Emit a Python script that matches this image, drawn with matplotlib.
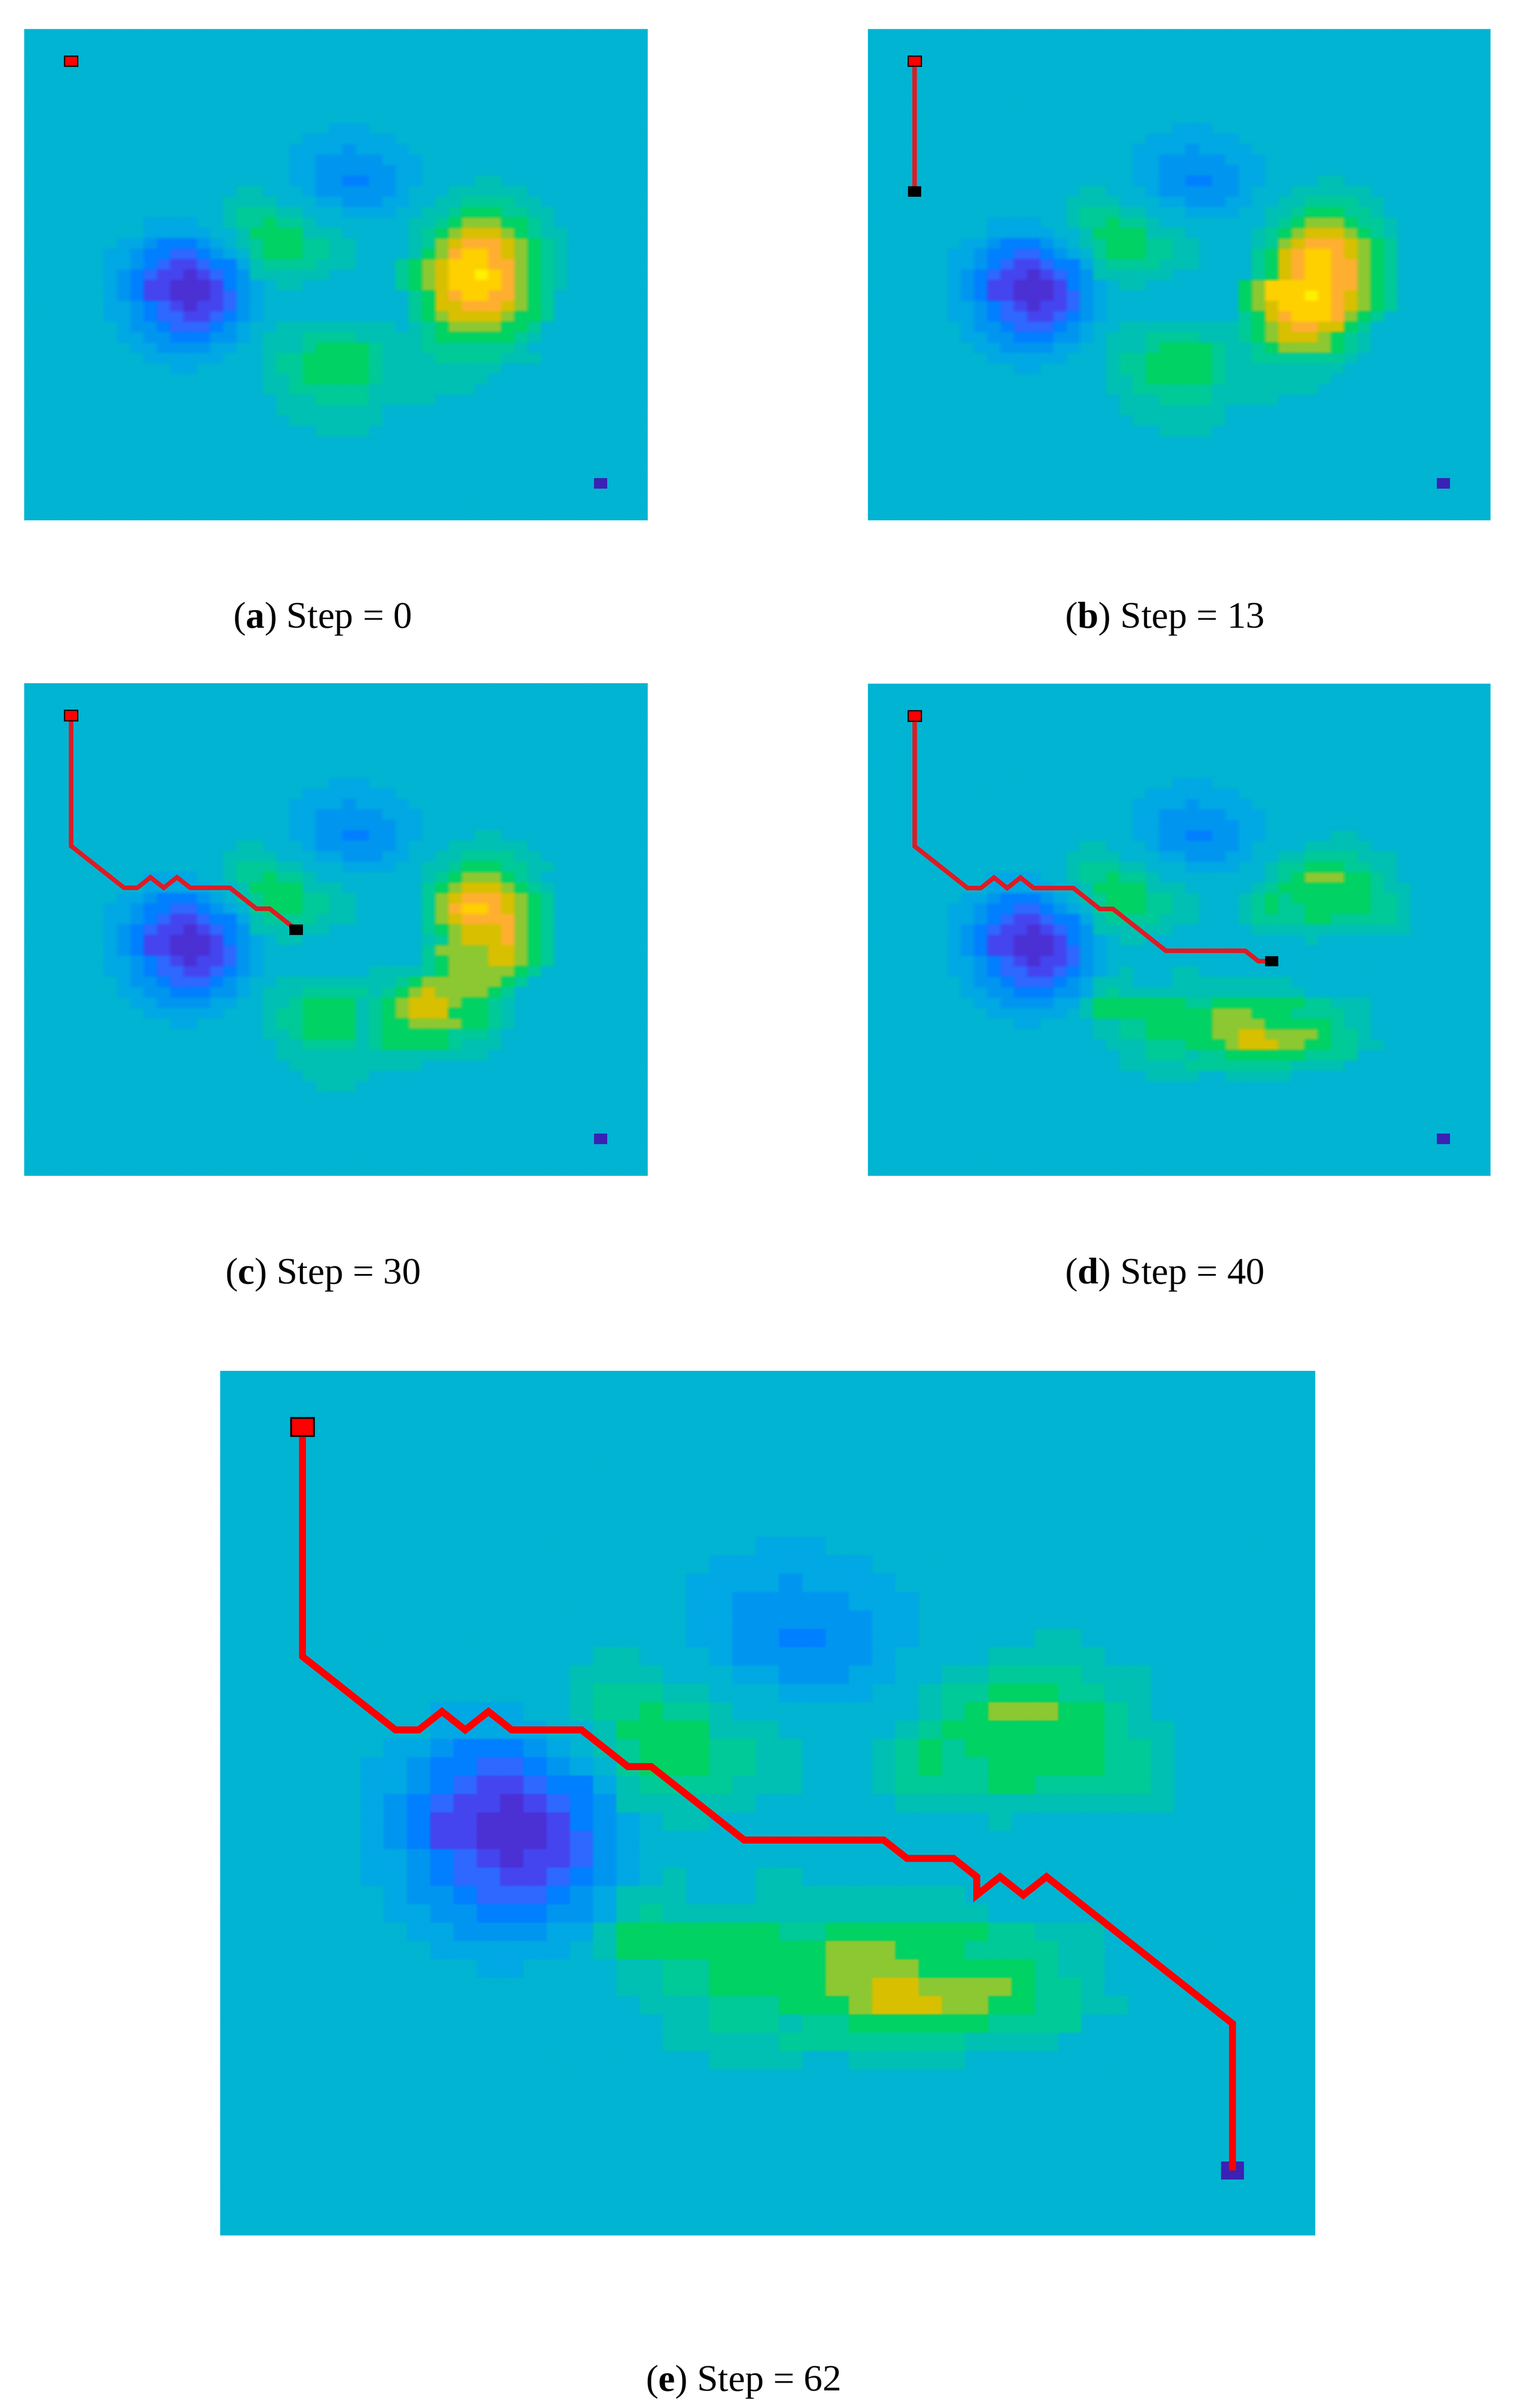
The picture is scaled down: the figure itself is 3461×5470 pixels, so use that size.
import matplotlib

matplotlib.use("Agg")
import matplotlib.pyplot as plt
from matplotlib.patches import Rectangle
import numpy as np

FIG_W, FIG_H = 3462, 5470
DPI = 100

# colour of every threat level, '.' is the open water background
LEVEL_COLORS = {
    ".": "#00B4D2",
    "a": "#00A8E4",
    "b": "#0096F0",
    "c": "#007FFF",
    "d": "#2E68FF",
    "e": "#4545F0",
    "f": "#4B30D4",
    "g": "#00C0B4",
    "h": "#00CA98",
    "i": "#00D264",
    "j": "#8CC832",
    "k": "#D8C000",
    "l": "#FFB030",
    "m": "#FFD000",
    "n": "#FFF000",
}

# cells are (row, first column, levels)
LEFT_BLOB = [
    (18, 9, "aaaa"),
    (19, 9, "aaaaa"),
    (20, 7, "aabcccba"),
    (21, 6, "aabccddcba"),
    (22, 6, "aabcdeedcca"),
    (23, 6, "abcdeefedcba"),
    (24, 6, "abceefffecba"),
    (25, 6, "abceefffedba"),
    (26, 6, "aabcdefeedba"),
    (27, 6, "aabcddeedcba"),
    (28, 7, "abbcdddcba"),
    (29, 7, "aabbcccbba"),
    (30, 8, "aabbbbaa"),
    (31, 9, "aaaaaa"),
    (32, 11, "aa"),
]
TOP_BLOB = [
    (9, 23, "aaa"),
    (10, 21, "aaaaaaa"),
    (11, 20, "aaaabaaaa"),
    (12, 20, "aabbbbbaaa"),
    (13, 20, "aabbbbbbaa"),
    (14, 20, "aabbccbbaa"),
    (15, 21, "abbbbbba"),
    (16, 22, "aabbbaa"),
    (17, 24, "aaaa"),
]
MID_BLOB = [
    (15, 16, "gg"),
    (16, 15, "gggg"),
    (17, 15, "ghhhgg"),
    (18, 15, "ghhihhg"),
    (19, 16, "giiiiggg"),
    (20, 16, "ghiiihhgg"),
    (21, 17, "hiiihhgg"),
    (22, 17, "ghhhhggg"),
    (23, 17, "gggggg"),
    (24, 19, "gg"),
]
LOW_AB = [
    (28, 19, "ggggggggg"),
    (29, 18, "ggghhhhgggg"),
    (30, 18, "ggghiiiihgg"),
    (31, 18, "ghhiiiiihg"),
    (32, 18, "ghhiiiiih"),
    (33, 18, "gghiiiiih"),
    (34, 18, "gghhhhhhg"),
    (35, 19, "ggghhhhgg"),
    (36, 19, "gggggggg"),
    (37, 20, "ggggggg"),
    (38, 22, "gggg"),
]
CLOUD_A = [
    (14, 34, "gg"),
    (15, 32, "gggggg"),
    (16, 31, "gghhhhgg"),
    (17, 30, "gghiiihhgg"),
    (18, 29, "gghijjjiihg"),
    (19, 29, "ghijkkkjihgg"),
    (20, 29, "ghjklllkjihg"),
    (21, 29, "gijlmmlkjihg"),
    (22, 28, "hijkmmmlljihg"),
    (23, 28, "hijkmmnmljihg"),
    (24, 28, "hijkmmmmljihg"),
    (25, 29, "hiklmmlljih"),
    (26, 29, "hikklllkjih"),
    (27, 29, "hijkkkkjiih"),
    (28, 29, "ghijjjjiih"),
    (29, 29, "ghiiiiiihg"),
    (30, 28, "gghhhhhhhg"),
    (31, 27, "gggghhhhhggg"),
    (32, 27, "ggggggggg"),
    (33, 27, "gggggggg"),
    (34, 27, "ggggggg"),
    (35, 27, "gggg"),
]
CLOUD_B = [
    (14, 34, "gg"),
    (15, 32, "gggggg"),
    (16, 31, "gghhhhgg"),
    (17, 30, "gghiiihhg"),
    (18, 30, "ghijjjihhg"),
    (19, 29, "ghijkkkjihg"),
    (20, 29, "ghjklllkjih"),
    (21, 29, "hiklmmlkjih"),
    (22, 29, "hiklmmlljih"),
    (23, 29, "hiklmmlljih"),
    (24, 28, "ijmmmmmlljih"),
    (25, 28, "ijmmmnmlkjih"),
    (26, 28, "ijkmmmmlkjih"),
    (27, 28, "hiklmmmljih"),
    (28, 28, "hijkllkkih"),
    (29, 28, "hijkkkjihg"),
    (30, 28, "ghijjjjihg"),
    (31, 27, "gghhhhhhhg"),
    (32, 27, "ggggggggg"),
    (33, 27, "gggggggg"),
    (34, 27, "ggggggg"),
    (35, 27, "gggg"),
]
LOW_C = [
    (28, 19, "gggggggg"),
    (29, 18, "ggghhhhhg"),
    (30, 18, "gghiiiig"),
    (31, 18, "ghhiiiig"),
    (32, 18, "ghhiiiig"),
    (33, 18, "gghiiiig"),
    (34, 19, "gghhhhg"),
    (35, 19, "ggggggg"),
    (36, 20, "gggggg"),
    (37, 21, "ggggg"),
    (38, 22, "ggg"),
]
CLOUD_C = [
    (14, 34, "gg"),
    (15, 32, "gggggg"),
    (16, 31, "gghhhhgg"),
    (17, 30, "gghiiihhgg"),
    (18, 30, "ghijjjihg"),
    (19, 30, "hijkkkjihg"),
    (20, 30, "hjklllkjih"),
    (21, 30, "hjlmmlkjih"),
    (22, 30, "hjklllljih"),
    (23, 30, "hijkkkljih"),
    (24, 30, "ghjkkkljih"),
    (25, 30, "hjjjjkkjih"),
    (26, 30, "hijjjkkjih"),
    (27, 26, "gggghijjjjjih"),
    (28, 26, "gghijjjjjjih"),
    (29, 26, "ghijkjjjjih"),
    (30, 26, "hijkkkjiihg"),
    (31, 26, "hijkkkiiihg"),
    (32, 26, "hiijjjjiihg"),
    (33, 26, "hiiiiihhhg"),
    (34, 26, "hiiiiihggg"),
    (35, 26, "ggggggggg"),
    (36, 26, "gggg"),
]
RIGHT_DE = [
    (14, 35, "gg"),
    (15, 33, "ggggg"),
    (16, 31, "gghhhhggg"),
    (17, 30, "ghhiiihhgg"),
    (18, 30, "ghijjjiihg"),
    (19, 29, "ghiiiiiiihgg"),
    (20, 28, "ghihiiiiiihhg"),
    (21, 28, "ghihhiiiiihhg"),
    (22, 28, "ghhhhiihhhhhg"),
    (23, 29, "gggggggggggg"),
    (24, 33, "g"),
]
LOW_DE = [
    (27, 19, "g"),
    (27, 23, "gg"),
    (28, 17, "ggg"),
    (28, 23, "ggggggggg"),
    (29, 17, "ghgggggggggggggg"),
    (30, 16, "giiiiiiihhiiiiiiihhggg"),
    (31, 16, "giiiiiiiiijjjiiihhhhgg"),
    (32, 17, "gghhiiiiijjjjiiiiihgg"),
    (33, 17, "gghhiiiiijjkkjjjjihhg"),
    (34, 18, "ggghhhiiijkkkjjiihhgg"),
    (35, 19, "gghhhghhiiiiiihhhh"),
    (36, 19, "ggggghhhhhhhhgggg"),
    (37, 21, "gggg"),
    (37, 27, "ggggg"),
]

# the route, one letter per step: Down, Q = down-right, Right, U = up-right
PATH_MOVES = "DDDDDDDDDDDDD" "QQQQ" "R" "UQUQ" "RRR" "QQ" "R" "QQQQ" "RRRRRR" "Q" "RR" "Q" "D" "UQU" "QQQQQQQQ" "DDDDDDDD"
START_CELL = (3, 2)

PANEL_STEPS = [0, 13, 30, 40, 62]
PANEL_LETTERS = ["a", "b", "c", "d", "e"]
PANEL_LAYERS = [
    [LOW_AB, CLOUD_A],
    [LOW_AB, CLOUD_B],
    [LOW_C, CLOUD_C],
    [LOW_DE, RIGHT_DE],
    [LOW_DE, RIGHT_DE],
]
PANEL_BOXES = [
    (55, 66, 1471, 1182),
    (1971, 66, 3385, 1182),
    (55, 1552, 1471, 2671),
    (1971, 1553, 3385, 2671),
    (500, 3114, 2987, 5078),
]
CAPTION_X = [731, 2644, 732, 2644, 1687]
CAPTION_BASE = [1426, 1426, 2916, 2916, 5431]

plt.rcParams["font.family"] = ["Liberation Serif", "DejaVu Serif"]
plt.rcParams["mathtext.fontset"] = "custom"
plt.rcParams["mathtext.rm"] = "Liberation Serif"
plt.rcParams["mathtext.bf"] = "Liberation Serif:bold"

N_CELLS = 48
AXIS_SPAN = 47.1
COL_SHIFT, ROW_SHIFT = 0.04, 0.06
NODE_X, NODE_Y = 0.54, 0.56


def level_image(layers, blur):
    grid = np.full((N_CELLS, N_CELLS, 3), matplotlib.colors.to_rgb(LEVEL_COLORS["."]))
    for layer in [LEFT_BLOB, TOP_BLOB, MID_BLOB] + layers:
        for row, col, levels in layer:
            for i, ch in enumerate(levels):
                if ch != ".":
                    grid[row, col + i] = matplotlib.colors.to_rgb(LEVEL_COLORS[ch])
    # the source picture was resampled, so soften the cell edges a little
    img = np.repeat(np.repeat(grid, 8, axis=0), 8, axis=1)
    if blur > 0:
        for axis in (0, 1):
            img = sum(np.roll(img, k, axis=axis) for k in range(-blur, blur + 1)) / (2 * blur + 1)
    return img


def path_nodes():
    col, row = START_CELL
    nodes = [(col, row)]
    for move in PATH_MOVES:
        if move == "D":
            row += 1
        elif move == "Q":
            col, row = col + 1, row + 1
        elif move == "R":
            col += 1
        elif move == "U":
            col, row = col + 1, row - 1
        nodes.append((col, row))
    return np.array(nodes, dtype=float)


fig = plt.figure(figsize=(FIG_W / DPI, FIG_H / DPI), dpi=DPI, facecolor="white")
nodes = path_nodes()

for idx, step in enumerate(PANEL_STEPS):
    x0, y0, x1, y1 = PANEL_BOXES[idx]
    ax = fig.add_axes([x0 / FIG_W, 1 - y1 / FIG_H, (x1 - x0) / FIG_W, (y1 - y0) / FIG_H])
    is_big = idx == 4
    # axis off hides the facecolor, so this keeps the sliver at the edges filled
    ax.add_patch(Rectangle((0, 0), AXIS_SPAN, AXIS_SPAN, facecolor=LEVEL_COLORS["."], edgecolor="none", zorder=0))
    ax.imshow(
        level_image(PANEL_LAYERS[idx], 0 if is_big else 1),
        extent=(COL_SHIFT, N_CELLS + COL_SHIFT, N_CELLS + ROW_SHIFT, ROW_SHIFT),
        interpolation="bilinear",
        aspect="auto",
        zorder=1,
    )
    ax.set_xlim(0, AXIS_SPAN)
    ax.set_ylim(AXIS_SPAN, 0)
    ax.axis("off")

    # goal marker sits under the route
    goal = nodes[-1]
    ax.add_patch(Rectangle((goal[0] + NODE_X - 0.5, goal[1] + NODE_Y - 0.5), 1, 1, facecolor="#3A22B4", edgecolor="none", zorder=3))

    if step > 0:
        done = nodes[: step + 1]
        ax.plot(
            done[:, 0] + NODE_X,
            done[:, 1] + NODE_Y,
            color="#FF0000" if is_big else "#DC1C24",
            lw=11.5 if is_big else 7.5,
            solid_joinstyle="miter",
            solid_capstyle="butt",
            zorder=4,
        )
    if 0 < step < len(PATH_MOVES):
        cur = nodes[step]
        ax.add_patch(Rectangle((cur[0] + NODE_X - 0.5, cur[1] + NODE_Y - 0.5), 1, 1, facecolor="black", edgecolor="none", zorder=5))

    # start marker is drawn half a cell below its node in the source
    start = nodes[0]
    ax.add_patch(
        Rectangle(
            (start[0] + NODE_X - 0.5, start[1] + NODE_Y),
            1,
            1,
            facecolor="#FF0000",
            edgecolor="black",
            lw=3 if is_big else 2,
            zorder=6,
        )
    )

    fig.text(
        CAPTION_X[idx] / FIG_W,
        1 - CAPTION_BASE[idx] / FIG_H,
        rf"($\mathbf{{{PANEL_LETTERS[idx]}}}$) Step = {step}",
        ha="center",
        va="baseline",
        fontsize=61.5,
        color="black",
    )

fig.savefig("out.png", dpi=DPI, facecolor="white")
